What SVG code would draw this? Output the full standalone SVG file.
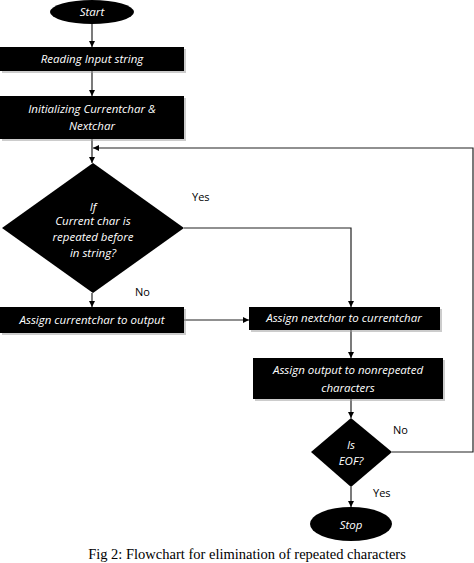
<svg xmlns="http://www.w3.org/2000/svg" width="474" height="563" viewBox="0 0 474 563">
<style>
.node{fill:#000}
.sh{fill:#9a9a9a;opacity:0.5}
.t{font-family:"Open Sans","Liberation Sans",sans-serif;font-style:italic;font-size:11.5px;fill:#fff;text-anchor:middle}
.lbl{font-family:"Open Sans","Liberation Sans",sans-serif;font-size:11px;fill:#000}
.ln{fill:none;stroke:#222;stroke-width:1.2}
.cap{font-family:"Liberation Serif",serif;font-size:14.5px;fill:#000;text-anchor:middle}
</style>
<defs>
<marker id="ah" viewBox="0 0 10 10" refX="10" refY="5" markerWidth="5" markerHeight="5" orient="auto">
<path d="M0,0 L10,5 L0,10 z" fill="#000"/>
</marker>
</defs>
<rect width="474" height="563" fill="#fff"/>
<g id="connectors">
<path class="ln" d="M92,24 V47" marker-end="url(#ah)"/>
<path class="ln" d="M92,71 V96" marker-end="url(#ah)"/>
<path class="ln" d="M92,139 V163" marker-end="url(#ah)"/>
<path class="ln" d="M92,293 V307" marker-end="url(#ah)"/>
<path class="ln" d="M184,228 H351 V307" marker-end="url(#ah)"/>
<path class="ln" d="M184,320 H249" marker-end="url(#ah)"/>
<path class="ln" d="M351,330 V358" marker-end="url(#ah)"/>
<path class="ln" d="M351,399 V418" marker-end="url(#ah)"/>
<path class="ln" d="M392,452 H473 V148 H93" marker-end="url(#ah)"/>
<path class="ln" d="M351,487 V507" marker-end="url(#ah)"/>
<text class="lbl" x="192" y="201">Yes</text>
<text class="lbl" x="135" y="296">No</text>
<text class="lbl" x="393" y="434">No</text>
<text class="lbl" x="373" y="497">Yes</text>
</g>
<g id="start">
<ellipse class="node" cx="92" cy="12" rx="42" ry="12"/>
<text class="t" x="92" y="16" font-size="12.5">Start</text>
</g>
<g id="read">
<rect class="sh" x="2" y="49" width="184" height="24"/>
<rect class="node" x="0" y="47" width="184" height="24"/>
<text class="t" x="92" y="63">Reading Input string</text>
</g>
<g id="init">
<rect class="sh" x="2" y="98" width="184" height="43"/>
<rect class="node" x="0" y="96" width="184" height="43"/>
<text class="t" x="92" y="113">Initializing Currentchar &amp;</text>
<text class="t" x="92" y="130">Nextchar</text>
</g>
<g id="decision1">
<polygon class="node" points="93,163 184,228 93,293 2,228"/>
<text class="t" x="93" y="211">If</text>
<text class="t" x="93" y="225">Current char is</text>
<text class="t" x="93" y="241">repeated before</text>
<text class="t" x="93" y="257">in string?</text>
</g>
<g id="assignOut">
<rect class="sh" x="2" y="309" width="184" height="26"/>
<rect class="node" x="0" y="307" width="184" height="26"/>
<text class="t" x="92" y="324">Assign currentchar to output</text>
</g>
<g id="assignNext">
<rect class="sh" x="251" y="309" width="191" height="23"/>
<rect class="node" x="249" y="307" width="191" height="23"/>
<text class="t" x="344" y="322">Assign nextchar to currentchar</text>
</g>
<g id="assignNonrep">
<rect class="sh" x="255" y="360" width="190" height="41"/>
<rect class="node" x="253" y="358" width="190" height="41"/>
<text class="t" x="348" y="374">Assign output to nonrepeated</text>
<text class="t" x="348" y="392">characters</text>
</g>
<g id="decision2">
<polygon class="node" points="351,418 392,452 351,487 311,452"/>
<text class="t" x="351" y="449">Is</text>
<text class="t" x="351" y="465">EOF?</text>
</g>
<g id="stop">
<ellipse class="node" cx="351" cy="524" rx="41" ry="17"/>
<text class="t" x="351" y="529" font-size="12.5">Stop</text>
</g>
<text class="cap" x="247" y="559">Fig 2: Flowchart for elimination of repeated characters</text>
</svg>
